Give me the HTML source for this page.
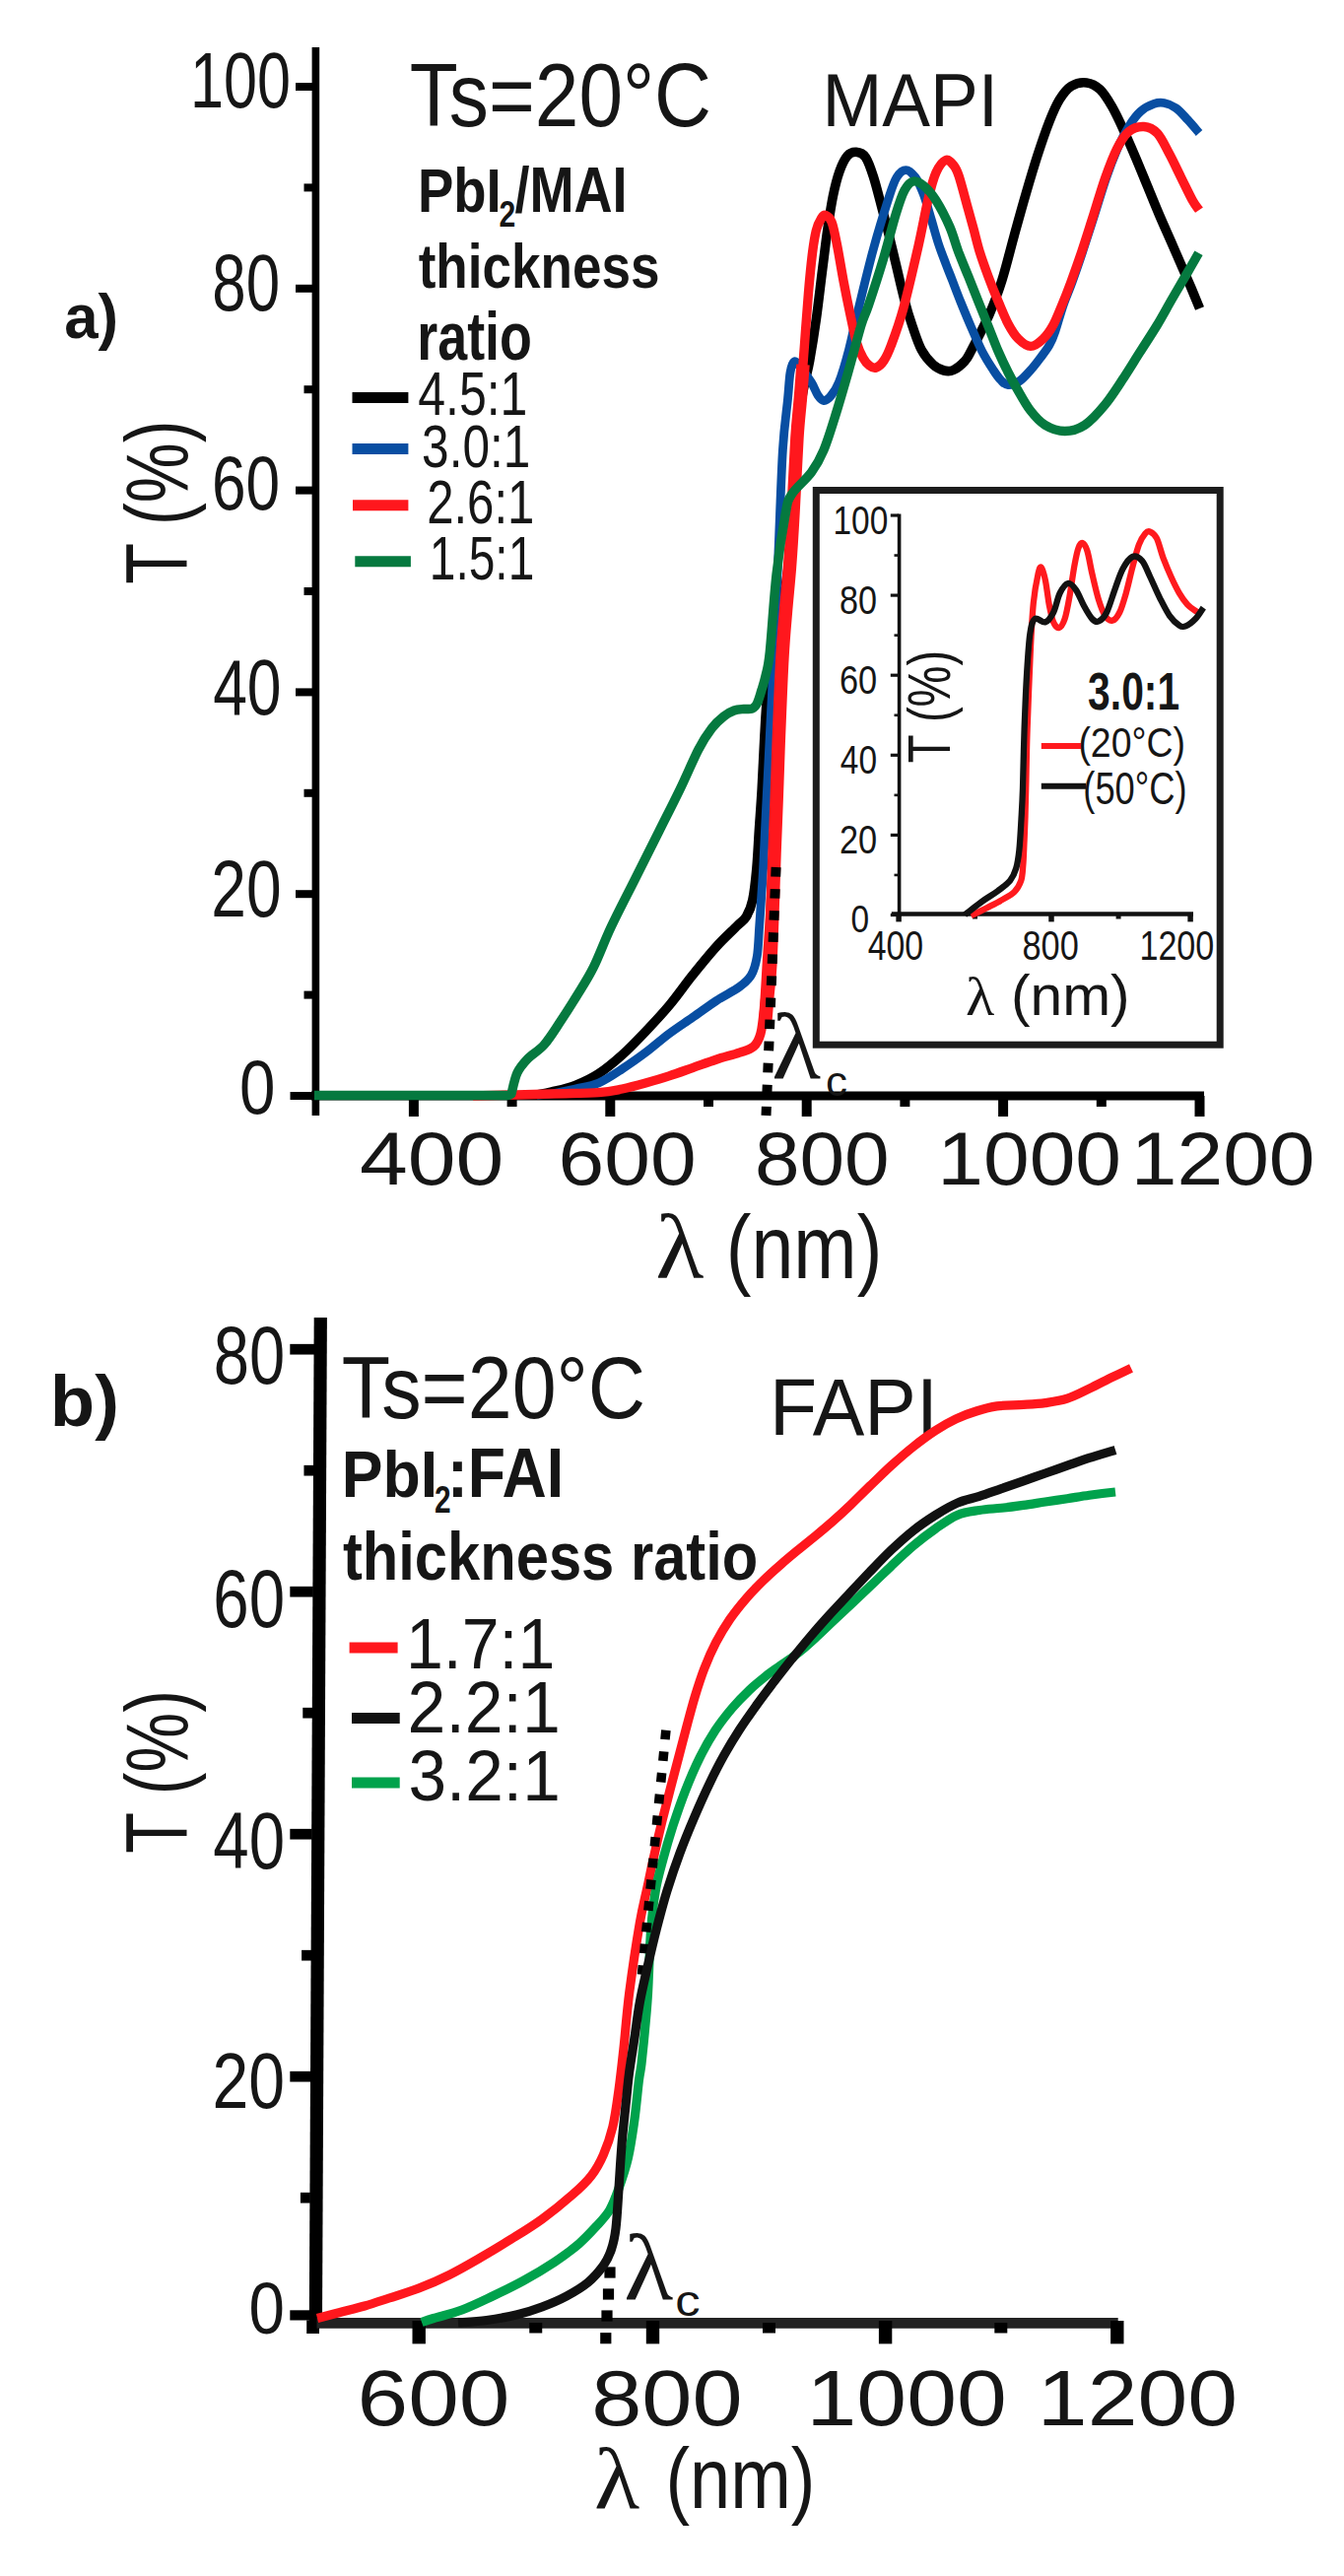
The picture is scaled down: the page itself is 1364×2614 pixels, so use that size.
<!DOCTYPE html>
<html lang="en"><head><meta charset="utf-8"><title>Transmittance spectra of MAPI and FAPI films</title>
<style>
html,body{margin:0;padding:0;background:#fff;}
svg{display:block;}
text{white-space:pre;}
</style></head><body>
<svg width="1364" height="2614" viewBox="0 0 1364 2614">
<rect x="0" y="0" width="1364" height="2614" fill="#ffffff"/>
<line x1="316.00" y1="1112.00" x2="1222.00" y2="1112.00" stroke="#000" stroke-width="9"/>
<line x1="320.40" y1="48.00" x2="320.40" y2="1132.00" stroke="#000" stroke-width="7.6"/>
<line x1="294.50" y1="1112.00" x2="317.00" y2="1112.00" stroke="#000" stroke-width="8"/>
<line x1="300.00" y1="907.20" x2="317.00" y2="907.20" stroke="#000" stroke-width="8"/>
<line x1="300.00" y1="702.40" x2="317.00" y2="702.40" stroke="#000" stroke-width="8"/>
<line x1="300.00" y1="497.60" x2="317.00" y2="497.60" stroke="#000" stroke-width="8"/>
<line x1="300.00" y1="292.80" x2="317.00" y2="292.80" stroke="#000" stroke-width="8"/>
<line x1="300.00" y1="88.00" x2="317.00" y2="88.00" stroke="#000" stroke-width="8"/>
<line x1="308.50" y1="1009.60" x2="317.00" y2="1009.60" stroke="#000" stroke-width="8"/>
<line x1="308.50" y1="804.80" x2="317.00" y2="804.80" stroke="#000" stroke-width="8"/>
<line x1="308.50" y1="600.00" x2="317.00" y2="600.00" stroke="#000" stroke-width="8"/>
<line x1="308.50" y1="395.20" x2="317.00" y2="395.20" stroke="#000" stroke-width="8"/>
<line x1="308.50" y1="190.40" x2="317.00" y2="190.40" stroke="#000" stroke-width="8"/>
<line x1="419.90" y1="1112.00" x2="419.90" y2="1133.00" stroke="#000" stroke-width="10"/>
<line x1="619.30" y1="1112.00" x2="619.30" y2="1133.00" stroke="#000" stroke-width="10"/>
<line x1="818.70" y1="1112.00" x2="818.70" y2="1133.00" stroke="#000" stroke-width="10"/>
<line x1="1018.10" y1="1112.00" x2="1018.10" y2="1133.00" stroke="#000" stroke-width="10"/>
<line x1="1217.50" y1="1112.00" x2="1217.50" y2="1133.00" stroke="#000" stroke-width="10"/>
<line x1="519.60" y1="1112.00" x2="519.60" y2="1123.00" stroke="#000" stroke-width="10"/>
<line x1="719.00" y1="1112.00" x2="719.00" y2="1123.00" stroke="#000" stroke-width="10"/>
<line x1="918.40" y1="1112.00" x2="918.40" y2="1123.00" stroke="#000" stroke-width="10"/>
<line x1="1117.80" y1="1112.00" x2="1117.80" y2="1123.00" stroke="#000" stroke-width="10"/>
<path d="M545.0,1111.0 C547.5,1110.5 553.5,1109.6 560.0,1108.0 C566.5,1106.4 575.9,1104.5 583.8,1101.4 C591.7,1098.3 599.7,1094.7 607.6,1089.5 C615.5,1084.3 623.5,1077.6 631.4,1070.5 C639.3,1063.4 647.3,1055.0 655.2,1046.7 C663.1,1038.4 671.0,1030.0 679.0,1020.5 C687.0,1011.0 694.9,999.4 702.9,989.5 C710.9,979.6 719.2,969.3 726.7,961.0 C734.2,952.7 743.0,944.7 748.1,939.5 C753.2,934.3 754.9,934.4 757.5,930.0 C760.1,925.6 762.1,921.4 763.8,913.2 C765.5,905.1 766.8,893.2 767.9,881.1 C769.0,869.0 769.6,854.3 770.5,840.9 C771.4,827.5 772.3,816.3 773.2,800.7 C774.1,785.1 775.0,762.7 775.9,747.1 C776.8,731.5 777.2,719.9 778.6,707.0 C780.0,694.1 781.9,682.8 784.0,670.0 C786.1,657.2 788.7,643.3 791.0,630.0 C793.3,616.7 796.0,603.3 798.0,590.0 C800.0,576.7 801.6,565.0 803.0,550.0 C804.4,535.0 805.4,516.7 806.5,500.0 C807.6,483.3 808.4,465.0 809.5,450.0 C810.6,435.0 811.7,420.8 813.0,410.0 C814.3,399.2 816.0,392.3 817.5,385.0 C819.0,377.7 819.9,376.1 821.7,366.0 C823.5,355.9 826.1,340.1 828.3,324.4 C830.5,308.7 832.9,287.0 834.9,271.6 C836.9,256.2 838.2,244.1 840.0,232.0 C841.8,219.9 843.4,208.7 845.4,199.0 C847.4,189.3 849.6,180.7 852.0,173.9 C854.4,167.1 857.2,161.4 860.0,158.1 C862.8,154.8 865.9,154.1 869.0,154.3 C872.1,154.5 875.5,155.2 878.4,159.4 C881.3,163.6 883.8,171.1 886.4,179.2 C889.0,187.3 891.7,198.3 894.3,208.2 C896.9,218.1 899.6,228.0 902.2,238.6 C904.8,249.2 907.5,260.6 910.1,271.6 C912.7,282.6 915.4,294.7 918.0,304.6 C920.6,314.5 923.1,322.6 926.0,331.0 C928.9,339.4 931.7,348.5 935.2,355.0 C938.7,361.5 943.2,366.5 947.0,370.0 C950.8,373.5 954.6,375.1 958.0,376.0 C961.4,376.9 964.1,377.1 967.6,375.5 C971.1,373.9 976.0,369.8 979.0,366.6 C982.0,363.4 981.1,364.5 985.3,356.5 C989.5,348.5 999.0,330.6 1004.3,318.5 C1009.6,306.4 1012.9,297.1 1017.0,284.0 C1021.1,270.9 1025.1,254.2 1029.1,239.7 C1033.1,225.2 1037.1,210.6 1041.1,196.9 C1045.1,183.2 1049.0,169.9 1053.0,157.6 C1057.0,145.3 1061.3,132.7 1065.0,123.3 C1068.7,113.9 1071.6,107.1 1075.3,101.1 C1079.0,95.1 1082.7,90.2 1087.3,87.4 C1091.9,84.6 1097.8,83.4 1102.7,84.0 C1107.6,84.6 1112.1,86.8 1116.4,90.8 C1120.7,94.8 1124.4,101.1 1128.4,107.9 C1132.4,114.8 1136.3,123.3 1140.3,131.9 C1144.3,140.5 1148.3,149.9 1152.3,159.3 C1156.3,168.7 1160.3,178.7 1164.3,188.4 C1168.3,198.1 1172.3,208.1 1176.3,217.5 C1180.3,226.9 1184.3,235.7 1188.3,244.8 C1192.3,253.9 1196.9,264.7 1200.2,272.2 C1203.5,279.7 1205.1,283.2 1208.0,290.0 C1210.9,296.8 1215.9,309.2 1217.5,313.0" fill="none" stroke="#000000" stroke-width="9.6" stroke-linejoin="round"/>
<path d="M545.0,1111.0 C547.5,1110.8 553.5,1111.0 560.0,1110.0 C566.5,1109.0 575.9,1106.8 583.8,1105.0 C591.7,1103.2 599.7,1102.4 607.6,1099.0 C615.5,1095.6 623.5,1090.0 631.4,1084.8 C639.3,1079.6 647.3,1074.1 655.2,1068.1 C663.1,1062.1 671.0,1055.0 679.0,1049.0 C687.0,1043.0 694.9,1038.0 702.9,1032.4 C710.9,1026.9 718.8,1020.9 726.7,1015.7 C734.6,1010.5 744.5,1005.8 750.5,1001.4 C756.5,997.0 759.4,994.6 762.4,989.5 C765.4,984.4 766.9,978.8 768.3,970.5 C769.7,962.2 769.9,950.6 770.7,939.5 C771.5,928.4 772.5,913.5 773.1,903.8 C773.8,894.1 773.9,893.8 774.6,881.1 C775.3,868.4 776.3,845.4 777.2,827.5 C778.1,809.6 779.0,791.8 779.9,773.9 C780.8,756.0 781.7,738.2 782.6,720.4 C783.5,702.5 784.1,693.5 785.3,666.8 C786.5,640.1 788.5,595.0 790.0,560.0 C791.5,525.0 792.8,482.2 794.4,456.5 C796.0,430.8 798.1,419.0 799.4,405.9 C800.7,392.8 800.9,384.5 802.0,378.0 C803.1,371.5 804.3,368.0 806.0,367.0 C807.7,366.0 809.1,368.5 812.0,372.0 C814.9,375.5 820.5,383.4 823.5,388.2 C826.5,393.0 827.9,397.9 830.0,401.0 C832.1,404.1 833.8,406.3 836.0,406.5 C838.2,406.7 840.5,405.1 843.0,402.0 C845.5,398.9 848.2,396.0 851.3,388.2 C854.4,380.4 858.1,367.8 861.4,355.3 C864.7,342.8 867.1,330.2 871.3,313.0 C875.5,295.8 881.4,270.9 886.5,252.3 C891.6,233.8 897.8,213.8 901.7,201.7 C905.6,189.6 907.0,184.8 910.0,180.0 C913.0,175.2 916.2,172.6 919.4,172.6 C922.6,172.6 926.0,176.0 929.0,180.0 C932.0,184.0 934.4,189.6 937.1,196.6 C939.8,203.6 942.5,213.6 945.0,222.0 C947.5,230.4 949.8,239.3 952.3,247.0 C954.8,254.7 957.7,261.8 960.0,268.0 C962.3,274.2 963.8,277.5 966.3,284.0 C968.8,290.5 972.0,299.1 975.2,307.0 C978.4,314.9 981.7,322.9 985.3,331.2 C988.9,339.4 992.9,349.1 996.7,356.5 C1000.5,363.9 1004.9,370.6 1008.1,375.5 C1011.3,380.4 1013.5,383.5 1016.0,386.0 C1018.5,388.5 1019.9,390.5 1023.0,390.6 C1026.1,390.7 1030.8,389.3 1034.6,386.8 C1038.4,384.3 1042.4,379.5 1046.0,375.5 C1049.6,371.5 1052.9,367.0 1056.1,362.8 C1059.3,358.6 1062.5,354.7 1065.0,350.2 C1067.5,345.7 1068.7,342.7 1071.0,336.0 C1073.3,329.3 1076.2,318.2 1079.0,310.0 C1081.8,301.8 1084.8,295.5 1088.0,286.5 C1091.2,277.5 1094.8,267.2 1098.5,256.0 C1102.2,244.8 1106.5,231.5 1110.5,219.0 C1114.5,206.5 1118.6,192.3 1122.5,181.0 C1126.4,169.7 1130.2,159.8 1134.0,151.0 C1137.8,142.2 1141.6,134.8 1145.5,128.5 C1149.4,122.2 1153.2,116.9 1157.5,113.1 C1161.8,109.2 1167.1,106.8 1171.1,105.4 C1175.1,104.0 1177.7,103.8 1181.4,104.5 C1185.1,105.2 1189.4,106.8 1193.4,109.6 C1197.4,112.4 1201.5,117.4 1205.4,121.6 C1209.3,125.8 1215.1,132.8 1217.0,135.0" fill="none" stroke="#084ea2" stroke-width="8.8" stroke-linejoin="round"/>
<path d="M480.0,1112.0 C493.3,1111.7 538.7,1110.6 560.0,1110.0 C581.3,1109.4 595.7,1109.4 607.6,1108.6 C619.5,1107.8 623.5,1106.6 631.4,1105.0 C639.3,1103.4 647.3,1101.2 655.2,1099.0 C663.1,1096.8 671.0,1094.5 679.0,1091.9 C687.0,1089.3 694.9,1086.4 702.9,1083.6 C710.9,1080.8 718.8,1077.8 726.7,1075.2 C734.6,1072.6 744.1,1070.3 750.5,1068.1 C756.9,1065.9 761.2,1065.3 764.8,1062.1 C768.4,1058.9 770.1,1055.5 771.9,1049.0 C773.7,1042.5 774.4,1035.2 775.5,1022.9 C776.6,1010.6 777.5,990.5 778.5,975.0 C779.5,959.5 780.6,945.8 781.5,930.0 C782.4,914.2 783.1,896.7 784.0,880.0 C784.9,863.3 785.9,850.0 787.0,830.0 C788.1,810.0 789.3,785.0 790.5,760.0 C791.7,735.0 792.9,700.0 794.0,680.0 C795.1,660.0 795.5,660.4 797.0,640.0 C798.5,619.6 801.1,591.0 803.2,557.7 C805.3,524.4 808.0,465.7 809.5,440.0 C811.0,414.3 811.2,418.5 812.4,403.6 C813.5,388.7 815.1,368.4 816.4,350.8 C817.7,333.2 819.1,313.4 820.4,298.0 C821.7,282.6 823.0,269.1 824.3,258.4 C825.6,247.7 826.8,240.2 828.3,234.0 C829.8,227.8 832.0,224.1 833.6,221.5 C835.2,218.9 836.5,217.8 838.2,218.5 C840.0,219.2 842.2,220.5 844.1,225.4 C846.0,230.3 847.4,238.1 849.4,248.0 C851.4,257.9 853.8,273.2 856.0,284.8 C858.2,296.4 860.4,307.4 862.6,317.8 C864.8,328.2 867.0,339.5 869.2,347.0 C871.4,354.5 873.6,359.0 875.8,363.0 C878.0,367.0 880.1,369.3 882.4,371.0 C884.6,372.7 886.9,373.8 889.3,373.0 C891.7,372.2 894.5,369.7 897.0,366.0 C899.5,362.3 900.9,359.7 904.2,350.9 C907.5,342.1 912.2,329.9 916.8,313.0 C921.4,296.1 927.8,268.2 932.0,249.7 C936.2,231.1 939.1,214.1 942.1,201.7 C945.1,189.2 947.0,181.5 950.0,175.0 C953.0,168.5 956.8,163.7 959.8,162.5 C962.8,161.3 965.8,165.3 968.0,168.0 C970.2,170.7 970.8,171.5 973.2,178.8 C975.6,186.1 979.9,202.9 982.4,211.8 C984.9,220.7 986.0,224.8 988.0,232.0 C990.0,239.2 991.7,247.2 994.2,255.3 C996.7,263.4 999.9,272.2 1003.0,280.6 C1006.1,289.0 1009.7,297.9 1013.1,305.9 C1016.5,313.9 1019.8,322.4 1023.2,328.7 C1026.6,335.0 1029.6,340.0 1033.4,343.8 C1037.2,347.6 1041.8,351.4 1046.0,351.4 C1050.2,351.4 1054.9,347.4 1058.7,343.8 C1062.5,340.2 1065.7,335.6 1068.8,330.0 C1071.9,324.4 1074.6,317.2 1077.6,310.0 C1080.6,302.8 1083.5,295.5 1086.8,286.5 C1090.1,277.5 1093.8,267.2 1097.6,256.0 C1101.4,244.8 1105.5,231.5 1109.5,219.0 C1113.5,206.5 1117.5,192.3 1121.5,181.0 C1125.5,169.7 1129.5,158.9 1133.5,151.0 C1137.5,143.1 1140.9,137.3 1145.5,133.6 C1150.1,129.8 1156.1,128.2 1160.9,128.5 C1165.8,128.8 1170.3,130.8 1174.6,135.3 C1178.9,139.9 1182.6,148.4 1186.6,155.8 C1190.6,163.2 1194.5,171.8 1198.5,179.8 C1202.5,187.8 1207.4,198.2 1210.5,203.8 C1213.6,209.4 1215.9,211.6 1217.0,213.2" fill="none" stroke="#ff171d" stroke-width="9.4" stroke-linejoin="round"/>
<path d="M776.5,1040.0 C776.9,1035.0 778.1,1020.2 779.0,1010.0 C779.9,999.8 781.0,993.2 781.8,979.0 C782.6,964.8 783.3,943.8 784.0,925.0 C784.7,906.2 785.3,885.2 786.0,866.0 C786.7,846.8 787.5,828.8 788.2,810.0 C788.9,791.2 789.3,776.7 790.2,753.0 C791.2,729.3 792.6,690.2 793.9,668.0 C795.1,645.8 796.2,635.5 797.5,620.0 C798.8,604.5 800.2,591.7 801.5,575.0 C802.8,558.3 803.8,541.7 805.0,520.0 C806.2,498.3 807.7,464.0 808.9,444.6 C810.1,425.2 811.4,416.0 812.4,403.6 C813.4,391.2 814.6,375.6 815.0,370.0" fill="none" stroke="#ff171d" stroke-width="13.5" stroke-linejoin="round"/>
<path d="M319.0,1111.5 L516.0,1111.5 L519.0,1110.0 C520.0,1106.4 522.2,1094.5 525.0,1088.6 C527.8,1082.6 531.1,1079.1 535.7,1074.3 C540.3,1069.5 546.9,1066.3 552.4,1060.0 C557.9,1053.7 563.5,1044.5 569.0,1036.2 C574.5,1027.9 580.1,1019.1 585.7,1010.0 C591.3,1000.9 596.7,992.9 602.4,981.4 C608.1,969.9 613.0,955.9 620.0,941.0 C627.0,926.1 636.5,908.0 644.6,891.8 C652.7,875.6 661.2,858.8 668.8,843.6 C676.4,828.4 683.5,814.6 690.2,800.7 C696.9,786.9 703.5,770.8 708.9,760.5 C714.2,750.2 718.0,744.7 722.3,739.1 C726.6,733.5 730.7,730.0 734.5,727.0 C738.3,724.0 741.6,722.2 745.0,721.0 C748.4,719.8 751.9,719.8 755.0,719.5 C758.1,719.2 761.2,720.0 763.5,719.0 C765.8,718.0 766.9,716.7 768.5,713.5 C770.1,710.3 771.5,704.8 773.0,700.0 C774.5,695.2 775.8,691.4 777.2,685.0 C778.6,678.6 779.5,678.4 781.3,661.4 C783.1,644.4 785.4,606.2 788.0,583.0 C790.6,559.8 794.5,535.8 797.0,522.3 C799.5,508.8 798.8,509.2 803.2,502.0 C807.6,494.8 818.0,486.9 823.5,479.3 C829.0,471.7 831.9,466.6 836.1,456.5 C840.3,446.4 844.6,432.0 848.8,418.5 C853.0,405.0 857.2,390.2 861.4,375.5 C865.6,360.8 870.7,340.9 874.0,330.0 C877.3,319.1 877.6,321.3 881.4,310.0 C885.2,298.7 892.0,277.9 896.6,262.4 C901.2,246.9 905.7,228.4 909.3,216.8 C912.9,205.2 915.0,198.5 918.0,193.0 C921.0,187.5 923.7,184.7 927.0,184.0 C930.3,183.3 934.2,185.8 938.0,189.0 C941.8,192.2 945.4,196.2 949.7,203.0 C954.0,209.8 960.0,221.3 963.8,230.0 C967.6,238.7 969.4,246.9 972.6,255.3 C975.8,263.7 979.4,272.2 982.8,280.6 C986.2,289.0 989.5,297.5 992.9,305.9 C996.3,314.3 999.6,322.8 1003.0,331.2 C1006.4,339.6 1009.7,348.7 1013.1,356.5 C1016.5,364.3 1020.0,371.7 1023.2,378.0 C1026.4,384.3 1028.4,388.1 1032.1,394.4 C1035.8,400.7 1040.6,409.9 1045.3,416.0 C1050.0,422.1 1054.6,427.6 1060.5,431.2 C1066.4,434.8 1074.0,437.5 1080.7,437.5 C1087.5,437.5 1094.2,435.6 1101.0,431.2 C1107.8,426.8 1114.9,418.6 1121.2,411.0 C1127.5,403.4 1133.0,394.6 1138.9,385.7 C1144.8,376.8 1150.7,367.1 1156.6,357.8 C1162.5,348.5 1168.8,339.1 1174.3,330.0 C1179.8,320.9 1184.6,311.8 1189.7,303.0 C1194.8,294.2 1200.4,284.7 1204.9,277.0 C1209.4,269.3 1214.6,260.2 1216.5,256.8" fill="none" stroke="#05793f" stroke-width="9.4" stroke-linejoin="round"/>
<line x1="787.60" y1="880.00" x2="777.50" y2="1132.00" stroke="#000" stroke-width="10" stroke-dasharray="9.6 12.5"/>
<text transform="translate(193.06,108.90) scale(0.7666,1)" font-size="79.66" font-family='"Liberation Sans", sans-serif' fill="#161616">100</text>
<text transform="translate(215.28,314.60) scale(0.7587,1)" font-size="81.52" font-family='"Liberation Sans", sans-serif' fill="#161616">80</text>
<text transform="translate(214.89,517.30) scale(0.7996,1)" font-size="77.79" font-family='"Liberation Sans", sans-serif' fill="#161616">60</text>
<text transform="translate(216.13,725.40) scale(0.7745,1)" font-size="80.52" font-family='"Liberation Sans", sans-serif' fill="#161616">40</text>
<text transform="translate(214.30,929.60) scale(0.7942,1)" font-size="80.66" font-family='"Liberation Sans", sans-serif' fill="#161616">20</text>
<text transform="translate(242.98,1129.60) scale(0.8433,1)" font-size="77.65" font-family='"Liberation Sans", sans-serif' fill="#161616">0</text>
<text transform="translate(365.07,1202.30) scale(1.1592,1)" font-size="75.64" font-family='"Liberation Sans", sans-serif' fill="#161616">400</text>
<text transform="translate(566.60,1202.30) scale(1.1095,1)" font-size="75.64" font-family='"Liberation Sans", sans-serif' fill="#161616">600</text>
<text transform="translate(765.89,1202.30) scale(1.0836,1)" font-size="75.64" font-family='"Liberation Sans", sans-serif' fill="#161616">800</text>
<text transform="translate(951.32,1202.30) scale(1.1096,1)" font-size="75.64" font-family='"Liberation Sans", sans-serif' fill="#161616">1000</text>
<text transform="translate(1147.82,1202.30) scale(1.1096,1)" font-size="75.64" font-family='"Liberation Sans", sans-serif' fill="#161616">1200</text>
<text transform="translate(665.37,1297.00) scale(1.0890,1)" font-size="93.04" font-family='"Liberation Serif", serif' fill="#161616">λ</text>
<text transform="translate(736.71,1297.00) scale(0.8442,1)" font-size="91.45" font-family='"Liberation Sans", sans-serif' fill="#161616">(nm)</text>
<text transform="translate(190.00,592.81) rotate(-90) scale(0.7673,1)" font-size="89.39" font-family='"Liberation Sans", sans-serif' fill="#161616">T (%)</text>
<text transform="translate(65.15,343.30) scale(0.9682,1)" font-size="63.75" font-family='"Liberation Sans", sans-serif' font-weight="bold" fill="#161616">a)</text>
<text transform="translate(415.73,127.50) scale(0.8917,1)" font-size="89.97" font-family='"Liberation Sans", sans-serif' fill="#161616">Ts=20°C</text>
<text transform="translate(834.40,127.80) scale(0.9568,1)" font-size="76.45" font-family='"Liberation Sans", sans-serif' fill="#161616">MAPI</text>
<text transform="translate(423.90,214.70) scale(0.8769,1)" font-size="62.15" font-family='"Liberation Sans", sans-serif' font-weight="bold" fill="#161616">PbI</text>
<text transform="translate(506.48,229.70) scale(0.8107,1)" font-size="37.11" font-family='"Liberation Sans", sans-serif' font-weight="bold" fill="#161616">2</text>
<text transform="translate(522.46,214.70) scale(0.8268,1)" font-size="65.41" font-family='"Liberation Sans", sans-serif' font-weight="bold" fill="#161616">/MAI</text>
<text transform="translate(424.66,292.20) scale(0.8320,1)" font-size="63.81" font-family='"Liberation Sans", sans-serif' font-weight="bold" fill="#161616">thickness</text>
<text transform="translate(423.35,364.70) scale(0.7898,1)" font-size="68.10" font-family='"Liberation Sans", sans-serif' font-weight="bold" fill="#161616">ratio</text>
<line x1="357.50" y1="403.40" x2="414.40" y2="403.40" stroke="#000000" stroke-width="11"/>
<line x1="357.50" y1="455.50" x2="414.40" y2="455.50" stroke="#084ea2" stroke-width="11"/>
<line x1="358.00" y1="512.80" x2="414.40" y2="512.80" stroke="#ff171d" stroke-width="11"/>
<line x1="360.30" y1="569.80" x2="416.90" y2="569.80" stroke="#05793f" stroke-width="11"/>
<text transform="translate(424.20,421.30) scale(0.7945,1)" font-size="62.94" font-family='"Liberation Sans", sans-serif' fill="#161616">4.5:1</text>
<text transform="translate(428.12,474.00) scale(0.8048,1)" font-size="61.60" font-family='"Liberation Sans", sans-serif' fill="#161616">3.0:1</text>
<text transform="translate(433.14,531.30) scale(0.7826,1)" font-size="62.75" font-family='"Liberation Sans", sans-serif' fill="#161616">2.6:1</text>
<text transform="translate(435.76,588.00) scale(0.7719,1)" font-size="62.06" font-family='"Liberation Sans", sans-serif' fill="#161616">1.5:1</text>
<text transform="translate(783.33,1094.30) scale(1.0834,1)" font-size="94.74" font-family='"Liberation Serif", serif' fill="#161616">λ</text>
<text transform="translate(837.95,1112.00) scale(1.0516,1)" font-size="41.82" font-family='"Liberation Sans", sans-serif' fill="#161616">c</text>
<rect x="828.3" y="497.5" width="409.9" height="562.7" fill="#ffffff" stroke="#1c1c1c" stroke-width="7"/>
<line x1="912.60" y1="521.50" x2="912.60" y2="930.00" stroke="#111" stroke-width="3.6"/>
<line x1="904.80" y1="927.50" x2="1211.00" y2="927.50" stroke="#111" stroke-width="4.5"/>
<line x1="903.80" y1="928.50" x2="912.00" y2="928.50" stroke="#111" stroke-width="3.2"/>
<line x1="903.80" y1="847.40" x2="912.00" y2="847.40" stroke="#111" stroke-width="3.2"/>
<line x1="903.80" y1="766.30" x2="912.00" y2="766.30" stroke="#111" stroke-width="3.2"/>
<line x1="903.80" y1="685.20" x2="912.00" y2="685.20" stroke="#111" stroke-width="3.2"/>
<line x1="903.80" y1="604.10" x2="912.00" y2="604.10" stroke="#111" stroke-width="3.2"/>
<line x1="903.80" y1="523.00" x2="912.00" y2="523.00" stroke="#111" stroke-width="3.2"/>
<line x1="907.50" y1="887.95" x2="912.00" y2="887.95" stroke="#111" stroke-width="2.6"/>
<line x1="907.50" y1="806.85" x2="912.00" y2="806.85" stroke="#111" stroke-width="2.6"/>
<line x1="907.50" y1="725.75" x2="912.00" y2="725.75" stroke="#111" stroke-width="2.6"/>
<line x1="907.50" y1="644.65" x2="912.00" y2="644.65" stroke="#111" stroke-width="2.6"/>
<line x1="907.50" y1="563.55" x2="912.00" y2="563.55" stroke="#111" stroke-width="2.6"/>
<line x1="912.10" y1="927.00" x2="912.10" y2="935.40" stroke="#111" stroke-width="5.5"/>
<line x1="1067.00" y1="927.00" x2="1067.00" y2="935.40" stroke="#111" stroke-width="5.5"/>
<line x1="1208.10" y1="927.00" x2="1208.10" y2="935.40" stroke="#111" stroke-width="5.5"/>
<line x1="989.50" y1="927.00" x2="989.50" y2="932.50" stroke="#111" stroke-width="5"/>
<line x1="1135.10" y1="927.00" x2="1135.10" y2="932.50" stroke="#111" stroke-width="5"/>
<path d="M985.5,929.3 C988.0,928.0 995.3,924.4 1000.5,921.8 C1005.7,919.1 1011.7,916.2 1016.5,913.4 C1021.3,910.6 1026.2,908.3 1029.5,905.0 C1032.8,901.7 1034.7,898.2 1036.2,893.8 C1037.7,889.3 1037.7,885.1 1038.3,878.1 C1038.9,871.1 1039.2,859.8 1039.6,852.0 C1039.9,844.2 1040.1,839.9 1040.4,831.2 C1040.7,822.6 1040.8,815.2 1041.2,800.0 C1041.6,784.8 1041.8,763.3 1042.6,740.0 C1043.4,716.7 1044.8,681.3 1045.8,660.0 C1046.8,638.7 1047.5,625.0 1048.8,612.0 C1050.1,599.0 1052.3,588.2 1053.6,582.2 C1054.9,576.2 1055.6,574.6 1056.8,575.7 C1058.0,576.8 1059.5,582.2 1060.9,588.8 C1062.3,595.3 1063.6,607.9 1065.0,615.0 C1066.4,622.1 1067.5,627.6 1069.1,631.3 C1070.7,635.0 1072.9,637.5 1074.8,637.0 C1076.7,636.5 1078.8,633.3 1080.6,628.0 C1082.4,622.7 1083.9,614.1 1085.5,605.1 C1087.1,596.1 1088.9,582.2 1090.4,574.0 C1091.9,565.8 1093.1,559.8 1094.5,556.0 C1095.9,552.2 1097.1,550.6 1098.6,551.1 C1100.1,551.6 1101.9,554.1 1103.5,559.3 C1105.1,564.5 1106.5,574.0 1108.4,582.2 C1110.3,590.4 1112.7,601.3 1114.9,608.4 C1117.1,615.5 1119.2,621.2 1121.5,624.8 C1123.8,628.3 1126.5,630.2 1128.9,629.7 C1131.4,629.2 1133.9,626.1 1136.2,621.5 C1138.5,616.9 1140.6,609.4 1142.8,601.8 C1145.0,594.2 1147.1,583.9 1149.3,575.7 C1151.5,567.5 1153.7,558.4 1155.9,552.7 C1158.1,547.0 1160.5,543.5 1162.4,541.3 C1164.3,539.1 1165.4,538.8 1167.3,539.6 C1169.2,540.4 1171.7,541.8 1173.9,546.2 C1176.1,550.6 1178.0,559.2 1180.4,565.8 C1182.9,572.3 1185.9,579.5 1188.6,585.5 C1191.3,591.5 1194.1,597.2 1196.8,601.8 C1199.5,606.4 1202.3,610.3 1205.0,613.3 C1207.7,616.3 1211.3,618.5 1213.2,619.9 C1215.1,621.3 1215.9,621.2 1216.4,621.5" fill="none" stroke="#ff1a1e" stroke-width="6.3" stroke-linejoin="round"/>
<path d="M979.2,928.1 C982.2,925.9 991.4,918.6 996.9,914.6 C1002.4,910.6 1007.8,907.7 1012.5,904.2 C1017.2,900.7 1021.9,897.6 1025.0,893.8 C1028.1,889.9 1029.7,886.5 1031.2,881.2 C1032.8,876.0 1033.5,870.8 1034.4,862.5 C1035.3,854.2 1035.9,841.7 1036.5,831.2 C1037.1,820.8 1037.5,815.2 1038.0,800.0 C1038.5,784.8 1038.9,759.4 1039.6,740.0 C1040.3,720.6 1041.1,699.9 1042.1,683.7 C1043.1,667.5 1044.0,652.1 1045.4,642.8 C1046.8,633.5 1047.7,629.9 1050.3,628.0 C1052.9,626.1 1057.8,632.4 1060.9,631.3 C1064.0,630.2 1066.6,626.4 1069.1,621.5 C1071.6,616.6 1073.2,606.7 1075.7,601.8 C1078.2,596.9 1081.1,592.5 1083.8,592.0 C1086.5,591.5 1089.3,594.8 1092.0,598.6 C1094.7,602.4 1097.5,610.1 1100.2,615.0 C1102.9,619.9 1106.0,625.4 1108.4,628.0 C1110.9,630.6 1112.5,631.6 1114.9,630.5 C1117.4,629.4 1120.4,626.8 1123.1,621.5 C1125.8,616.2 1128.6,606.0 1131.3,598.6 C1134.0,591.2 1136.5,582.9 1139.5,577.3 C1142.5,571.7 1146.0,566.4 1149.3,565.0 C1152.6,563.6 1156.1,565.7 1159.1,569.1 C1162.1,572.5 1164.3,579.2 1167.3,585.5 C1170.3,591.8 1173.8,600.2 1177.1,606.8 C1180.4,613.3 1183.7,620.2 1187.0,624.8 C1190.3,629.4 1194.1,632.8 1196.8,634.6 C1199.5,636.4 1200.6,636.5 1203.3,635.4 C1206.0,634.3 1210.2,631.1 1213.2,628.0 C1216.2,624.9 1220.0,618.5 1221.3,616.6" fill="none" stroke="#121212" stroke-width="6.3" stroke-linejoin="round"/>
<text transform="translate(845.46,541.50) scale(0.8195,1)" font-size="40.83" font-family='"Liberation Sans", sans-serif' fill="#161616">100</text>
<text transform="translate(852.10,622.80) scale(0.8283,1)" font-size="41.26" font-family='"Liberation Sans", sans-serif' fill="#161616">80</text>
<text transform="translate(851.88,704.00) scale(0.8274,1)" font-size="41.55" font-family='"Liberation Sans", sans-serif' fill="#161616">60</text>
<text transform="translate(852.86,785.00) scale(0.8053,1)" font-size="41.55" font-family='"Liberation Sans", sans-serif' fill="#161616">40</text>
<text transform="translate(851.88,866.00) scale(0.8274,1)" font-size="41.55" font-family='"Liberation Sans", sans-serif' fill="#161616">20</text>
<text transform="translate(863.46,945.60) scale(0.8590,1)" font-size="38.97" font-family='"Liberation Sans", sans-serif' fill="#161616">0</text>
<text transform="translate(880.66,974.40) scale(0.8032,1)" font-size="42.12" font-family='"Liberation Sans", sans-serif' fill="#161616">400</text>
<text transform="translate(1037.49,974.40) scale(0.8158,1)" font-size="42.12" font-family='"Liberation Sans", sans-serif' fill="#161616">800</text>
<text transform="translate(1156.41,974.40) scale(0.8101,1)" font-size="42.12" font-family='"Liberation Sans", sans-serif' fill="#161616">1200</text>
<text transform="translate(980.03,1030.00) scale(1.1181,1)" font-size="53.98" font-family='"Liberation Serif", serif' fill="#161616">λ</text>
<text transform="translate(1025.96,1030.40) scale(1.0398,1)" font-size="56.51" font-family='"Liberation Sans", sans-serif' fill="#161616">(nm)</text>
<text transform="translate(964.00,774.14) rotate(-90) scale(0.7796,1)" font-size="60.47" font-family='"Liberation Sans", sans-serif' fill="#161616">T (%)</text>
<text transform="translate(1104.12,720.00) scale(0.7594,1)" font-size="53.72" font-family='"Liberation Sans", sans-serif' font-weight="bold" fill="#161616">3.0:1</text>
<line x1="1056.80" y1="757.00" x2="1097.00" y2="757.00" stroke="#ff1a1e" stroke-width="6"/>
<line x1="1056.80" y1="797.80" x2="1102.00" y2="797.80" stroke="#121212" stroke-width="6"/>
<text transform="translate(1094.38,768.30) scale(0.8630,1)" font-size="43.41" font-family='"Liberation Sans", sans-serif' fill="#161616">(20°C)</text>
<text transform="translate(1099.35,816.40) scale(0.7775,1)" font-size="46.66" font-family='"Liberation Sans", sans-serif' fill="#161616">(50°C)</text>
<line x1="325.30" y1="1337.00" x2="320.40" y2="2355.00" stroke="#000" stroke-width="13.2"/>
<rect x="311.20" y="2354.40" width="12.80" height="13.60" fill="#000"/>
<line x1="321.50" y1="2357.30" x2="1134.70" y2="2357.30" stroke="#222222" stroke-width="10.8"/>
<line x1="294.30" y1="2107.20" x2="315.49" y2="2107.20" stroke="#000" stroke-width="10.7"/>
<line x1="294.30" y1="1861.20" x2="316.68" y2="1861.20" stroke="#000" stroke-width="10.7"/>
<line x1="294.30" y1="1615.20" x2="317.86" y2="1615.20" stroke="#000" stroke-width="10.7"/>
<line x1="294.30" y1="1369.20" x2="319.05" y2="1369.20" stroke="#000" stroke-width="10.7"/>
<line x1="294.30" y1="2349.40" x2="315.00" y2="2349.40" stroke="#000" stroke-width="10.2"/>
<line x1="304.90" y1="2230.20" x2="314.90" y2="2230.20" stroke="#000" stroke-width="10.7"/>
<line x1="306.08" y1="1984.20" x2="316.08" y2="1984.20" stroke="#000" stroke-width="10.7"/>
<line x1="307.27" y1="1738.20" x2="317.27" y2="1738.20" stroke="#000" stroke-width="10.7"/>
<line x1="308.45" y1="1492.20" x2="318.45" y2="1492.20" stroke="#000" stroke-width="10.7"/>
<line x1="425.20" y1="2355.00" x2="425.20" y2="2378.40" stroke="#000" stroke-width="13.4"/>
<line x1="662.50" y1="2355.00" x2="662.50" y2="2378.40" stroke="#000" stroke-width="13.4"/>
<line x1="898.60" y1="2355.00" x2="898.60" y2="2378.40" stroke="#000" stroke-width="13.4"/>
<line x1="1133.80" y1="2355.00" x2="1133.80" y2="2378.40" stroke="#000" stroke-width="13.4"/>
<line x1="543.75" y1="2357.00" x2="543.75" y2="2367.50" stroke="#000" stroke-width="13"/>
<line x1="780.50" y1="2357.00" x2="780.50" y2="2367.50" stroke="#000" stroke-width="13"/>
<line x1="1015.80" y1="2357.00" x2="1015.80" y2="2367.50" stroke="#000" stroke-width="13"/>
<text transform="translate(781.04,1456.20) scale(0.9749,1)" font-size="80.81" font-family='"Liberation Sans", sans-serif' fill="#161616">FAPI</text>
<path d="M322.0,2352.5 C325.8,2351.5 337.0,2348.6 345.0,2346.5 C353.0,2344.4 361.7,2342.4 370.0,2340.0 C378.3,2337.6 385.8,2335.0 395.0,2332.0 C404.2,2329.0 414.8,2325.9 425.0,2322.0 C435.2,2318.1 445.8,2313.5 456.2,2308.3 C466.7,2303.1 477.1,2297.0 487.5,2291.0 C497.9,2285.0 508.3,2278.7 518.8,2272.2 C529.2,2265.7 539.6,2259.4 550.0,2251.9 C560.4,2244.4 572.9,2234.2 581.2,2226.9 C589.6,2219.6 594.8,2214.8 600.0,2208.0 C605.2,2201.2 608.9,2194.6 612.5,2186.2 C616.1,2177.9 619.3,2168.9 621.9,2158.0 C624.5,2147.1 626.2,2133.6 628.0,2120.6 C629.8,2107.6 631.0,2096.3 632.8,2080.0 C634.6,2063.7 635.9,2044.3 638.6,2022.9 C641.4,2001.5 646.2,1969.4 649.3,1951.4 C652.4,1933.4 654.5,1926.8 657.0,1915.0 C659.5,1903.2 661.8,1891.9 664.4,1880.5 C666.9,1869.1 669.5,1857.8 672.2,1846.8 C675.0,1835.7 677.9,1824.7 680.6,1814.0 C683.4,1803.3 686.2,1792.9 688.9,1782.5 C691.6,1772.2 694.2,1762.1 696.9,1752.0 C699.6,1741.9 702.2,1731.7 705.2,1721.8 C708.2,1712.0 711.3,1702.1 714.9,1692.9 C718.4,1683.7 722.3,1674.9 726.6,1666.6 C731.0,1658.2 735.8,1650.4 740.9,1642.9 C746.0,1635.5 751.7,1628.5 757.4,1621.9 C763.1,1615.4 769.1,1609.3 775.0,1603.5 C780.9,1597.7 786.9,1592.4 792.9,1587.2 C798.8,1582.0 804.8,1577.1 810.7,1572.2 C816.6,1567.4 822.5,1562.7 828.3,1558.0 C834.1,1553.2 839.6,1548.6 845.4,1543.5 C851.1,1538.4 856.8,1533.2 863.0,1527.3 C869.2,1521.3 875.9,1514.6 882.8,1507.9 C889.8,1501.3 897.3,1493.9 904.6,1487.2 C912.0,1480.5 919.6,1473.8 927.0,1468.0 C934.4,1462.1 941.8,1456.6 949.0,1451.9 C956.2,1447.2 963.2,1443.2 970.2,1439.9 C977.2,1436.5 983.9,1434.1 990.9,1432.0 C997.8,1429.8 1003.8,1428.0 1011.8,1426.9 C1019.8,1425.8 1030.4,1426.0 1038.6,1425.4 C1046.8,1424.9 1053.5,1424.6 1060.9,1423.6 C1068.3,1422.5 1075.8,1421.5 1083.2,1419.1 C1090.6,1416.7 1098.0,1412.6 1105.5,1409.1 C1113.0,1405.6 1120.8,1401.4 1127.9,1397.9 C1135.0,1394.5 1144.7,1390.0 1148.0,1388.4" fill="none" stroke="#ff171d" stroke-width="9.2" stroke-linejoin="round"/>
<path d="M428.0,2356.5 C430.0,2355.8 433.2,2354.6 440.0,2352.5 C446.8,2350.4 458.8,2347.8 468.8,2344.0 C478.8,2340.2 489.6,2334.9 500.0,2330.0 C510.4,2325.1 520.8,2320.1 531.2,2314.4 C541.7,2308.7 553.1,2301.8 562.5,2295.6 C571.9,2289.3 580.2,2283.2 587.5,2276.9 C594.8,2270.6 601.0,2263.7 606.2,2258.0 C611.5,2252.3 615.1,2248.7 618.8,2242.5 C622.4,2236.3 624.9,2229.4 628.0,2220.6 C631.1,2211.8 634.9,2200.8 637.5,2189.4 C640.1,2178.0 641.9,2164.9 643.8,2151.9 C645.6,2138.9 647.2,2120.8 648.4,2111.2 C649.6,2101.7 650.0,2103.1 651.0,2094.3 C652.0,2085.5 653.5,2070.5 654.6,2058.6 C655.7,2046.7 656.5,2039.3 657.5,2022.9 C658.5,2006.5 659.2,1977.5 660.5,1960.0 C661.8,1942.5 663.3,1930.2 665.4,1918.0 C667.5,1905.8 670.0,1897.7 672.9,1886.9 C675.8,1876.1 679.1,1864.8 682.8,1853.2 C686.6,1841.7 690.9,1829.0 695.4,1817.5 C699.9,1806.0 704.8,1794.3 709.9,1784.1 C714.9,1773.9 720.3,1764.6 725.8,1756.1 C731.3,1747.7 737.2,1740.3 743.0,1733.4 C748.8,1726.6 754.8,1720.5 760.5,1715.1 C766.2,1709.7 771.9,1705.1 777.0,1701.0 C782.1,1696.9 786.8,1693.8 791.2,1690.6 C795.6,1687.5 799.4,1685.2 803.6,1682.2 C807.7,1679.1 811.5,1676.3 816.0,1672.5 C820.4,1668.8 825.1,1664.4 830.2,1659.7 C835.3,1654.9 840.7,1649.6 846.4,1644.2 C852.0,1638.9 857.9,1633.4 864.1,1627.6 C870.3,1621.7 876.8,1615.7 883.6,1609.2 C890.4,1602.8 897.6,1595.6 904.8,1588.8 C912.0,1582.0 919.6,1574.8 927.0,1568.5 C934.4,1562.3 941.9,1556.5 949.3,1551.4 C956.7,1546.2 964.2,1540.5 971.6,1537.4 C979.0,1534.3 986.5,1533.7 993.9,1532.5 C1001.3,1531.3 1008.8,1531.1 1016.3,1530.3 C1023.8,1529.5 1031.2,1528.5 1038.6,1527.4 C1046.0,1526.4 1053.5,1525.1 1060.9,1524.0 C1068.3,1522.9 1075.8,1521.8 1083.2,1520.7 C1090.6,1519.6 1097.4,1518.4 1105.5,1517.3 C1113.6,1516.2 1127.6,1514.5 1132.0,1514.0" fill="none" stroke="#00a24c" stroke-width="9.2" stroke-linejoin="round"/>
<line x1="675.90" y1="1755.70" x2="651.30" y2="2005.50" stroke="#000" stroke-width="9.6" stroke-dasharray="9.5 12.3"/>
<rect x="613.40" y="2300.40" width="11.20" height="11.20" fill="#000"/>
<rect x="611.90" y="2322.40" width="11.20" height="11.20" fill="#000"/>
<rect x="610.40" y="2344.40" width="11.20" height="11.20" fill="#000"/>
<rect x="609.20" y="2367.10" width="11.20" height="11.20" fill="#000"/>
<path d="M465.0,2357.0 C469.8,2356.6 483.8,2355.9 493.8,2354.5 C503.8,2353.1 515.6,2351.0 525.0,2348.8 C534.4,2346.5 541.7,2344.1 550.0,2341.0 C558.3,2337.9 567.2,2334.2 575.0,2330.0 C582.8,2325.8 590.6,2321.2 596.9,2316.0 C603.1,2310.8 608.6,2304.2 612.5,2298.8 C616.4,2293.2 618.2,2289.2 620.3,2283.0 C622.4,2276.8 623.7,2271.7 625.0,2261.2 C626.3,2250.8 627.0,2235.2 628.0,2220.6 C629.0,2206.0 629.9,2189.4 631.2,2173.8 C632.6,2158.1 634.8,2138.7 636.0,2126.9 C637.2,2115.1 637.3,2112.9 638.6,2103.0 C639.9,2093.1 642.2,2079.4 644.0,2067.5 C645.8,2055.6 647.1,2043.8 649.3,2031.8 C651.5,2019.8 654.4,2007.8 657.2,1995.5 C660.0,1983.2 662.9,1970.5 666.2,1957.8 C669.5,1945.0 672.9,1931.8 676.9,1918.9 C680.9,1906.1 685.3,1893.0 690.0,1880.4 C694.7,1867.8 699.9,1855.2 704.9,1843.5 C709.9,1831.8 714.9,1820.5 719.9,1810.2 C724.9,1799.8 729.7,1790.3 734.9,1781.1 C740.0,1771.9 745.3,1763.3 750.8,1754.8 C756.3,1746.3 762.2,1738.1 768.0,1730.0 C773.8,1721.9 779.8,1714.1 785.7,1706.3 C791.7,1698.6 797.6,1691.0 803.6,1683.5 C809.6,1676.1 815.5,1668.8 821.6,1661.6 C827.8,1654.4 833.9,1647.5 840.5,1640.2 C847.0,1633.0 853.8,1625.8 860.8,1618.4 C867.8,1610.9 875.1,1603.0 882.4,1595.4 C889.7,1587.8 897.2,1579.9 904.6,1572.8 C912.1,1565.8 919.5,1559.0 927.0,1553.1 C934.4,1547.2 941.9,1542.2 949.3,1537.5 C956.7,1532.9 964.2,1528.3 971.6,1525.1 C979.0,1521.9 986.5,1520.8 993.9,1518.4 C1001.3,1516.0 1008.8,1513.2 1016.3,1510.6 C1023.8,1508.0 1031.2,1505.4 1038.6,1502.8 C1046.0,1500.2 1053.5,1497.6 1060.9,1495.0 C1068.3,1492.4 1075.8,1489.8 1083.2,1487.2 C1090.6,1484.6 1097.4,1482.1 1105.5,1479.4 C1113.6,1476.8 1127.6,1472.7 1132.0,1471.3" fill="none" stroke="#111111" stroke-width="9.2" stroke-linejoin="round"/>
<text transform="translate(216.74,1404.10) scale(0.7735,1)" font-size="84.10" font-family='"Liberation Sans", sans-serif' fill="#161616">80</text>
<text transform="translate(216.33,1650.70) scale(0.7780,1)" font-size="84.10" font-family='"Liberation Sans", sans-serif' fill="#161616">60</text>
<text transform="translate(216.26,1896.40) scale(0.7953,1)" font-size="82.23" font-family='"Liberation Sans", sans-serif' fill="#161616">40</text>
<text transform="translate(215.44,2139.00) scale(0.8291,1)" font-size="79.80" font-family='"Liberation Sans", sans-serif' fill="#161616">20</text>
<text transform="translate(252.58,2368.20) scale(0.8756,1)" font-size="74.79" font-family='"Liberation Sans", sans-serif' fill="#161616">0</text>
<text transform="translate(362.55,2461.00) scale(1.1791,1)" font-size="78.80" font-family='"Liberation Sans", sans-serif' fill="#161616">600</text>
<text transform="translate(600.16,2461.00) scale(1.1667,1)" font-size="78.80" font-family='"Liberation Sans", sans-serif' fill="#161616">800</text>
<text transform="translate(818.56,2461.00) scale(1.1590,1)" font-size="78.80" font-family='"Liberation Sans", sans-serif' fill="#161616">1000</text>
<text transform="translate(1052.86,2461.00) scale(1.1590,1)" font-size="78.80" font-family='"Liberation Sans", sans-serif' fill="#161616">1200</text>
<text transform="translate(603.02,2545.50) scale(1.0817,1)" font-size="88.07" font-family='"Liberation Serif", serif' fill="#161616">λ</text>
<text transform="translate(675.42,2545.00) scale(0.8464,1)" font-size="87.36" font-family='"Liberation Sans", sans-serif' fill="#161616">(nm)</text>
<text transform="translate(190.00,1880.70) rotate(-90) scale(0.7732,1)" font-size="88.37" font-family='"Liberation Sans", sans-serif' fill="#161616">T (%)</text>
<text transform="translate(50.80,1446.60) scale(1.0361,1)" font-size="71.69" font-family='"Liberation Sans", sans-serif' font-weight="bold" fill="#161616">b)</text>
<text transform="translate(346.82,1439.30) scale(0.8991,1)" font-size="89.83" font-family='"Liberation Sans", sans-serif' fill="#161616">Ts=20°C</text>
<text transform="translate(346.87,1518.60) scale(0.9401,1)" font-size="66.57" font-family='"Liberation Sans", sans-serif' font-weight="bold" fill="#161616">PbI</text>
<text transform="translate(440.98,1534.60) scale(0.7810,1)" font-size="38.25" font-family='"Liberation Sans", sans-serif' font-weight="bold" fill="#161616">2</text>
<text transform="translate(453.99,1518.60) scale(0.8934,1)" font-size="70.06" font-family='"Liberation Sans", sans-serif' font-weight="bold" fill="#161616">:FAI</text>
<text transform="translate(347.88,1602.50) scale(0.8647,1)" font-size="69.06" font-family='"Liberation Sans", sans-serif' font-weight="bold" fill="#161616">thickness ratio</text>
<line x1="354.60" y1="1672.00" x2="403.60" y2="1672.00" stroke="#ff171d" stroke-width="11"/>
<line x1="357.00" y1="1743.40" x2="405.70" y2="1743.40" stroke="#111" stroke-width="11"/>
<line x1="357.00" y1="1809.00" x2="405.70" y2="1809.00" stroke="#00a24c" stroke-width="11"/>
<text transform="translate(411.93,1692.90) scale(0.9363,1)" font-size="72.67" font-family='"Liberation Sans", sans-serif' fill="#161616">1.7:1</text>
<text transform="translate(413.61,1758.20) scale(0.9510,1)" font-size="73.35" font-family='"Liberation Sans", sans-serif' fill="#161616">2.2:1</text>
<text transform="translate(414.46,1826.80) scale(0.9683,1)" font-size="71.63" font-family='"Liberation Sans", sans-serif' fill="#161616">3.2:1</text>
<text transform="translate(633.32,2333.00) scale(1.0831,1)" font-size="95.17" font-family='"Liberation Serif", serif' fill="#161616">λ</text>
<text transform="translate(685.37,2350.30) scale(1.1655,1)" font-size="43.49" font-family='"Liberation Sans", sans-serif' fill="#161616">c</text>
</svg>
</body></html>
